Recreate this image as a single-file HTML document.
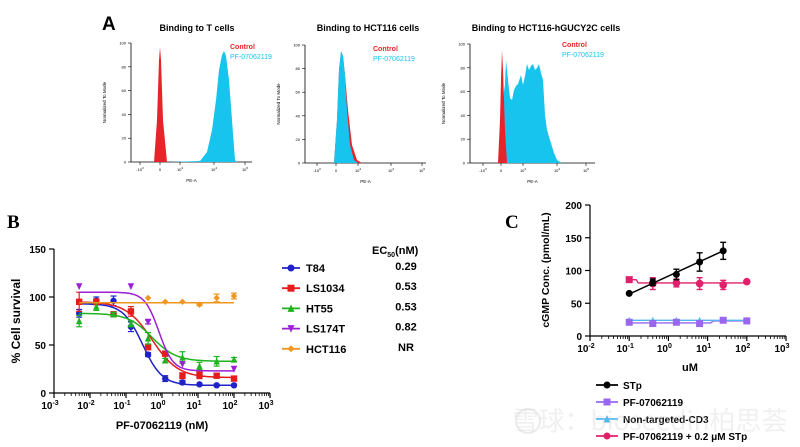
<!DOCTYPE html>
<html><head><meta charset="utf-8"><style>
html,body{margin:0;padding:0;background:#fff;}
svg{display:block;font-family:"Liberation Sans",Arial,sans-serif;}
</style></head><body>
<svg id="s" width="800" height="447" viewBox="0 0 800 447" xmlns="http://www.w3.org/2000/svg">
<rect width="800" height="447" fill="#fff"/>
<text x="102" y="30" font-size="19" font-weight="bold">A</text>
<text x="197" y="31" font-size="9" font-weight="bold" text-anchor="middle">Binding  to T cells</text>
<text x="368" y="31" font-size="9" font-weight="bold" text-anchor="middle">Binding  to HCT116 cells</text>
<text x="546" y="31" font-size="9" font-weight="bold" text-anchor="middle">Binding  to HCT116-hGUCY2C  cells</text>
<text x="7" y="228" font-size="19" font-weight="bold" font-family="Liberation Serif,serif">B</text>
<text x="505" y="228" font-size="19" font-weight="bold" font-family="Liberation Serif,serif">C</text>
<g id="g"></g>
</svg>
<script>
var g=document.getElementById('g'),NS='http://www.w3.org/2000/svg';
function el(t,a,txt){var e=document.createElementNS(NS,t);for(var k in a)e.setAttribute(k,a[k]);if(txt!=null)e.textContent=txt;g.appendChild(e);return e;}
function L(x1,y1,x2,y2,c,w){el('line',{x1:x1,y1:y1,x2:x2,y2:y2,stroke:c||'#000','stroke-width':w||1});}
function T(x,y,s,fs,o){o=o||{};var a={x:x,y:y,'font-size':fs};for(var k in o)a[k]=o[k];return el('text',a,s);}
function hist(ax,top,bot,right,ticks){
  L(ax,top,ax,bot,'#000',0.8);L(ax,bot,right,bot,'#000',0.8);
  [0,20,40,60,80,100].forEach(function(v){var y=bot-(bot-top)*v/100;L(ax-3,y,ax,y,'#000',0.6);T(ax-5,y+1.5,v,4,{'text-anchor':'end'});});
  var lb=['-10','0','10','10','10'],ex=['3','','3','4','5'];
  ticks.forEach(function(x,i){L(x,bot,x,bot+3,'#000',0.6);var t=T(x,bot+9,lb[i],4,{'text-anchor':'middle'});if(ex[i]){var ts=document.createElementNS(NS,'tspan');ts.setAttribute('dy','-2');ts.setAttribute('font-size','3');ts.textContent=ex[i];t.appendChild(ts);}});
  T((ax+right)/2,bot+20,'PE-A',4.5,{'text-anchor':'middle'});
  T(ax-25,(top+bot)/2,'Normalized To Mode',4.5,{'text-anchor':'middle',transform:'rotate(-90 '+(ax-25)+' '+((top+bot)/2)+')'});
}
function peak(pts,col){el('polygon',{points:pts,fill:col});}
hist(131,43,162,252,[140,160,180,214,245]);
peak('154,162 157,120 159,60 160,47 161,60 163,120 167,162','#e8242b');
peak('168,162 200,161 207,152 212,130 216,100 219,70 222,55 224,51 226,56 229,80 232,120 235,160 237,162','#16c4ee');
T(230,49,'Control',7,{fill:'#e8242b','font-weight':'bold'});T(230,59,'PF-07062119',7,{fill:'#16c4ee'});
hist(305,45,163,426,[317,336,358,391,422]);
peak('334,163 337,120 339,70 341,52 343,56 345,75 348,110 352,145 357,160 362,163','#e8242b');
peak('334,163 337,120 339,70 341,51 343,56 345,75 347,110 350,145 354,160 358,163','#16c4ee');
T(373,51,'Control',7,{fill:'#e8242b','font-weight':'bold'});T(373,61,'PF-07062119',7,{fill:'#16c4ee'});
hist(470,44,163,595,[483,501,523,557,586]);
peak('502,163 503,100 505,84 506,60 508,80 510,98 512,100 514,90 516,86 518,84 520,78 521,75 523,85 525,76 527,64 529,70 531,66 533,64 535,70 537,68 539,64 541,73 543,80 545,115 547,130 550,140 554,153 557,160 562,163','#16c4ee');
peak('498,163 500,120 501,80 502,50 503,70 505,130 507,163','#e8242b');
T(562,47,'Control',7,{fill:'#e8242b','font-weight':'bold'});T(562,57,'PF-07062119',7,{fill:'#16c4ee'});
var bx0=54,bpx=36,by0=393,bys=144/150;
function BX(x){return bx0+(Math.log10(x)+3)*bpx;}function BY(v){return by0-v*bys;}
L(54,249,54,393,'#000',1.2);L(54,393,270,393,'#000',1.2);
[0,50,100,150].forEach(function(v){L(49,BY(v),54,BY(v),'#000',1.2);T(46,BY(v)+4,v,10,{'text-anchor':'end','font-weight':'bold'});});
for(var d=-3;d<=3;d++){var x=bx0+(d+3)*bpx;L(x,393,x,398,'#000',1.2);var t=T(x-4,409,'10',10,{'text-anchor':'middle','font-weight':'bold'});var ts=document.createElementNS(NS,'tspan');ts.setAttribute('dy','-4');ts.setAttribute('font-size','7');ts.textContent=d;t.appendChild(ts);
 if(d<3)for(var m=2;m<10;m++){var xm=x+Math.log10(m)*bpx;L(xm,393,xm,396,'#000',0.8);}}
T(162,429,'PF-07062119 (nM)',11,{'text-anchor':'middle','font-weight':'bold'});
T(20,321,'% Cell survival',12,{'text-anchor':'middle','font-weight':'bold',transform:'rotate(-90 20 321)'});
var xs=[0.005,0.015,0.045,0.137,0.41,1.23,3.7,11,33,100];
var ser=[
 {c:'#1f22c8',m:'o',top:93,bot:8,ec:0.29,h:1.6,d:[83,96,96,69,40,15,11,9,8,8],e:[4,4,5,5,2,3,2,1,1,1]},
 {c:'#e41c1c',m:'s',top:95,bot:16,ec:0.53,h:1.2,d:[95,95,82,85,48,41,18,19,18,15],e:[10,3,2,5,3,2,3,4,2,1]},
 {c:'#1fb31f',m:'t',top:83,bot:33,ec:0.53,h:1.3,d:[75,90,82,72,57,34,37,28,33,35],e:[6,4,2,3,6,2,6,4,5,2]},
 {c:'#9b1fd6',m:'v',top:105,bot:23,ec:0.82,h:2.2,d:[111,null,null,111,74,null,30,null,null,25],e:[0,0,0,0,2,0,0,0,0,0]},
 {c:'#f0961e',m:'d',flat:94,d:[null,null,null,null,99,95,95,92,99,101],e:[0,0,0,0,0,0,0,1,4,3]}
];
function mark(x,y,c,m,s){s=s||3.2;
 if(m=='o')el('circle',{cx:x,cy:y,r:s,fill:c});
 else if(m=='s')el('rect',{x:x-s,y:y-s,width:2*s,height:2*s,fill:c});
 else if(m=='t')el('polygon',{points:x+','+(y-s-0.5)+' '+(x-s)+','+(y+s)+' '+(x+s)+','+(y+s),fill:c});
 else if(m=='v')el('polygon',{points:x+','+(y+s+0.5)+' '+(x-s)+','+(y-s)+' '+(x+s)+','+(y-s),fill:c});
 else el('polygon',{points:x+','+(y-s)+' '+(x+s)+','+y+' '+x+','+(y+s)+' '+(x-s)+','+y,fill:c});}
ser.forEach(function(s){
 var p='';for(var i=0;i<=100;i++){var lx=Math.log10(0.005)+i*(Math.log10(100)-Math.log10(0.005))/100,x=Math.pow(10,lx);
  var v=s.flat?s.flat:s.bot+(s.top-s.bot)/(1+Math.pow(x/s.ec,s.h));p+=(i?'L':'M')+BX(x).toFixed(1)+','+BY(v).toFixed(1);}
 el('path',{d:p,stroke:s.c,'stroke-width':1.5,fill:'none'});
 xs.forEach(function(x,i){var v=s.d[i];if(v==null)return;var X=BX(x),Y=BY(v);if(s.e[i]){L(X,BY(v+s.e[i]),X,BY(v-s.e[i]),s.c,1.2);L(X-3,BY(v+s.e[i]),X+3,BY(v+s.e[i]),s.c,1.2);L(X-3,BY(v-s.e[i]),X+3,BY(v-s.e[i]),s.c,1.2);}mark(X,Y,s.c,s.m);});
});
var names=['T84','LS1034','HT55','LS174T','HCT116'],ecs=['0.29','0.53','0.53','0.82','NR'];
ser.forEach(function(s,i){var y=268+i*20.2;L(282,y,300,y,s.c,1.8);mark(291,y,s.c,s.m,3.5);T(306,y+4,names[i],11,{'font-weight':'bold'});T(406,y+2,ecs[i],11,{'font-weight':'bold','text-anchor':'middle'});});
var t=T(372,254,'EC',11,{'font-weight':'bold'});var ts=document.createElementNS(NS,'tspan');ts.setAttribute('dy','3');ts.setAttribute('font-size','7');ts.textContent='50';t.appendChild(ts);ts=document.createElementNS(NS,'tspan');ts.setAttribute('dy','-3');ts.textContent='(nM)';t.appendChild(ts);
var cx0=590,cpx=39.2,cy0=336,cys=131/200;
function CX(x){return cx0+(Math.log10(x)+2)*cpx;}function CY(v){return cy0-v*cys;}
L(590,205,590,336,'#000',1.2);L(590,336,786,336,'#000',1.2);
[0,50,100,150,200].forEach(function(v){L(585,CY(v),590,CY(v),'#000',1.2);T(582,CY(v)+4,v,10,{'text-anchor':'end','font-weight':'bold'});});
for(var d=-2;d<=3;d++){var x=cx0+(d+2)*cpx;L(x,336,x,341,'#000',1.2);var t=T(x-4,352,'10',10,{'text-anchor':'middle','font-weight':'bold'});var ts=document.createElementNS(NS,'tspan');ts.setAttribute('dy','-4');ts.setAttribute('font-size','7');ts.textContent=d;t.appendChild(ts);
 if(d<3)for(var m=2;m<10;m++){var xm=x+Math.log10(m)*cpx;L(xm,336,xm,339,'#000',0.8);}}
T(690,371,'uM',11,{'text-anchor':'middle','font-weight':'bold'});
T(549,270,'cGMP Conc. (pmol/mL)',10.5,{'text-anchor':'middle','font-weight':'bold',transform:'rotate(-90 549 270)'});
var cxs=[0.1,0.4,1.6,6.25,25,100];
var pp=[21,19,21,19,24,23];
el('path',{d:'M'+CX(0.1)+','+CY(20)+'H'+CX(12)+'L'+CX(14)+','+CY(23)+'H'+CX(100),stroke:'#9966ee','stroke-width':1.4,fill:'none'});
el('path',{d:'M'+CX(0.1)+','+CY(24)+'H'+CX(100),stroke:'#4fb8f0','stroke-width':1.4,fill:'none'});
cxs.forEach(function(x,i){mark(CX(x),CY(24),'#4fb8f0','t',3);mark(CX(x),CY(pp[i]),'#9966ee','s',3.5);});
var pk=[86,80,81,80,78,83],pe=[0,9,6,9,7,0];
el('path',{d:'M'+CX(0.1)+','+CY(86)+'H'+CX(0.15)+'L'+CX(0.17)+','+CY(81)+'H'+CX(100),stroke:'#e0206a','stroke-width':1.4,fill:'none'});
cxs.forEach(function(x,i){var X=CX(x);if(pe[i]){L(X,CY(pk[i]+pe[i]),X,CY(pk[i]-pe[i]),'#e0206a',1.4);L(X-3,CY(pk[i]+pe[i]),X+3,CY(pk[i]+pe[i]),'#e0206a',1.4);L(X-3,CY(pk[i]-pe[i]),X+3,CY(pk[i]-pe[i]),'#e0206a',1.4);}
 if(i==0)mark(X,CY(86),'#e0206a','s',3.5);else mark(X,CY(pk[i]),'#e0206a','o',3.8);});
var st=[65,82,94,113,130],se=[0,5,8,14,13];
L(CX(0.1),CY(64),CX(25),CY(130),'#000',1.5);
st.forEach(function(v,i){var X=CX(cxs[i]);if(se[i]){L(X,CY(v+se[i]),X,CY(v-se[i]),'#000',1.4);L(X-3,CY(v+se[i]),X+3,CY(v+se[i]),'#000',1.4);L(X-3,CY(v-se[i]),X+3,CY(v-se[i]),'#000',1.4);}mark(X,CY(v),'#000','o',3.5);});
var ln=[['STp','#000','o'],['PF-07062119','#9966ee','s'],['Non-targeted-CD3','#4fb8f0','t'],['PF-07062119 + 0.2 \u03bcM STp','#e0206a','o']];
ln.forEach(function(l,i){var y=385+i*17;L(596,y,618,y,l[1],1.8);mark(607,y,l[1],l[2],3.5);T(623,y+4,l[0],10,{'font-weight':'bold'});});
T(650,430,'\u96ea\u7403\uff1abioseedin\u67cf\u601d\u835f',26,{fill:'#ccc','fill-opacity':0.3,'text-anchor':'middle','font-family':'Noto Sans CJK SC,sans-serif'});
el('circle',{cx:528,cy:421,r:12,fill:'none',stroke:'#ccc','stroke-opacity':0.4,'stroke-width':2});
</script>
</body></html>
